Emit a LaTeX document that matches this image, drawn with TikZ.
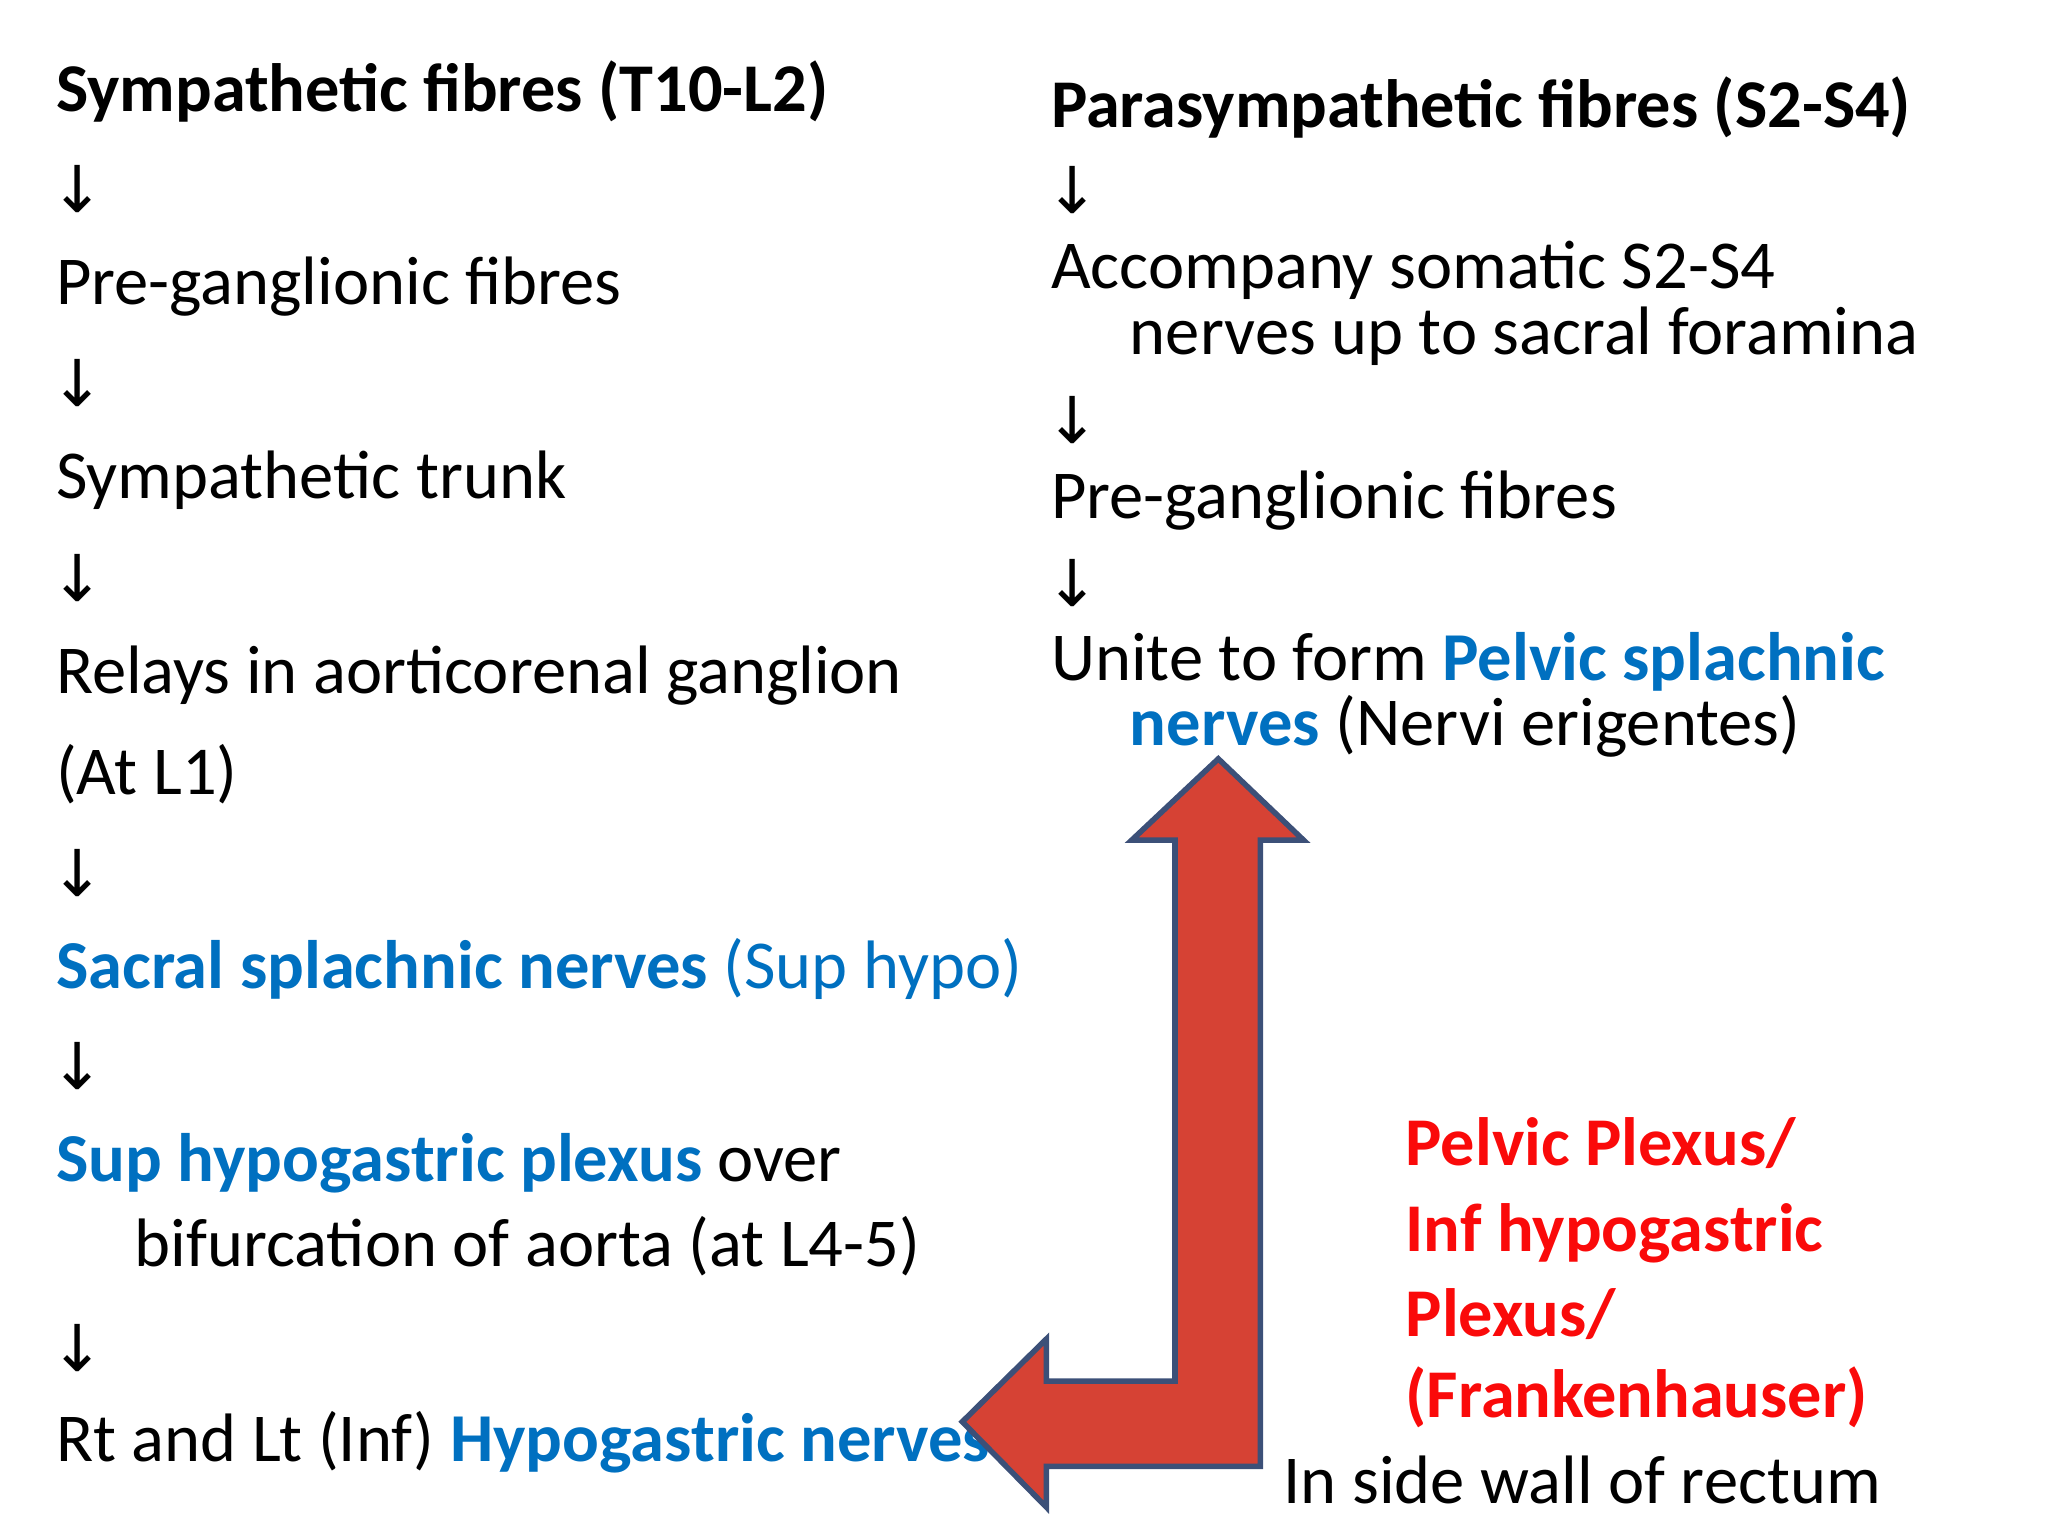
\documentclass[tikz,border=0pt]{standalone}
\usepackage{fontspec}
\setmainfont{Carlito}
\newfontfamily\arrfont{DejaVu Sans}
\definecolor{tblue}{RGB}{0,112,192}
\definecolor{tred}{RGB}{250,10,10}
\definecolor{afill}{RGB}{214,66,52}
\definecolor{aedge}{RGB}{60,80,120}
\begin{document}
\begin{tikzpicture}[x=0.01cm,y=-0.01cm,
  t/.style={anchor=base west,inner sep=0pt,font=\fontsize{14.85pt}{17pt}\selectfont},
  b/.style={t,font=\fontsize{14.8pt}{17pt}\selectfont\bfseries},
  dn/.style={anchor=base west,inner sep=0pt,font=\fontsize{14pt}{16pt}\selectfont\arrfont}]
\useasboundingbox (0,0) rectangle (1560,1170);
% left column
\node[b] (s1) at (42,85) {Sympathetic fibres (T10-L2)};
\node[dn] (a1) at (38,162) {↓};
\node[t] (s2) at (42,232) {Pre-ganglionic fibres};
\node[dn] (a2) at (38,310) {↓};
\node[t] (s3) at (42,380) {Sympathetic trunk};
\node[dn] (a3) at (38,458) {↓};
\node[t] (s4) at (42,528) {Relays in aorticorenal ganglion};
\node[t] (s5) at (42,605) {(At L1)};
\node[dn] (a4) at (38,683) {↓};
\node[t] (s6) at (42,753) {\textcolor{tblue}{\bfseries Sacral splachnic nerves} \textcolor{tblue}{(Sup hypo)}};
\node[dn] (a5) at (38,830) {↓};
\node[t] (s7) at (42,900) {\textcolor{tblue}{\bfseries Sup hypogastric plexus} over};
\node[t] (s8) at (102,965) {bifurcation of aorta (at L4-5)};
\node[dn] (a6) at (38,1045) {↓};
\node[t] (s9) at (42,1113) {Rt and Lt (Inf) \textcolor{tblue}{\bfseries Hypogastric nerves}};
% right column
\node[b] (p1) at (800,97) {Parasympathetic fibres (S2-S4)};
\node[dn] (b1) at (796,163) {↓};
\node[t] (p2) at (800,220) {Accompany somatic S2-S4};
\node[t] (p3) at (860,270) {nerves up to sacral foramina};
\node[dn] (b2) at (796,338) {↓};
\node[t] (p4) at (800,395) {Pre-ganglionic fibres};
\node[dn] (b3) at (796,462) {↓};
\node[t] (p5) at (800,518) {Unite to form \textcolor{tblue}{\bfseries Pelvic splachnic}};
\node[t] (p6) at (860,568) {\textcolor{tblue}{\bfseries nerves} (Nervi erigentes)};
\node[b,text=tred] (r1) at (1070,888) {Pelvic Plexus/};
\node[b,text=tred] (r2) at (1070,953) {Inf hypogastric};
\node[b,text=tred] (r3) at (1070,1018) {Plexus/};
\node[b,text=tred] (r4) at (1070,1080) {(Frankenhauser)};
\node[t] (r5) at (977,1145) {In side wall of rectum};
% L-shaped double arrow
\draw[fill=afill,draw=aedge,line width=1.2pt,line join=miter]
 (928,578) -- (993,640) -- (960,640) -- (960,1117) -- (797,1117) -- (797,1148)
 -- (733,1083) -- (797,1020) -- (797,1052) -- (895,1052) -- (895,640) -- (862,640) -- cycle;
\end{tikzpicture}
\end{document}
